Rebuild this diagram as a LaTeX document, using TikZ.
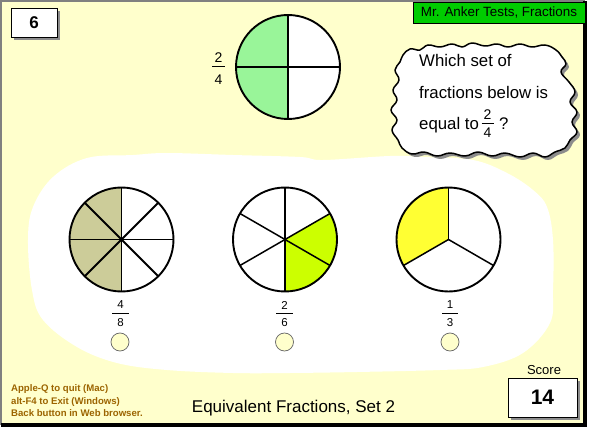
\documentclass[tikz,border=0pt]{standalone}
\usepackage{fontspec}
\setmainfont{Liberation Sans}
\usetikzlibrary{shadows}
\definecolor{paper}{HTML}{FFFFCC}
\definecolor{titlegreen}{RGB}{0,204,0}
\definecolor{halfgreen}{RGB}{153,245,153}
\definecolor{olivefill}{RGB}{204,204,153}
\definecolor{limefill}{RGB}{204,255,0}
\definecolor{yellowfill}{RGB}{255,255,51}
\definecolor{hinttext}{RGB}{156,100,0}
\begin{document}
\begin{tikzpicture}[x=1pt,y=-1pt,
  pieline/.style={line width=1.8pt, line join=round},
  pieedge/.style={line width=1.9pt},
  smallfrac/.style={font=\fontsize{11.5}{12}\selectfont, inner sep=0pt},
  bigfrac/.style={font=\fontsize{14}{15}\selectfont, inner sep=0pt},
  qtext/.style={font=\fontsize{16.8}{18}\selectfont, inner sep=0pt, anchor=base west},
  hint/.style={font=\fontsize{9.6}{10}\selectfont\bfseries, text=hinttext, inner sep=0pt, anchor=base west},
  choice/.style={circle, draw=black!60, line width=0.7pt, fill=paper, minimum size=18pt, inner sep=0pt},
  whitebox/.style={draw=black, line width=0.8pt, fill=white, inner sep=0pt,
     drop shadow={shadow xshift=3pt, shadow yshift=-3pt, fill=black!45, opacity=1}},
  fracbar/.style={line width=1pt}
]
\useasboundingbox (0,0) rectangle (590,428);
% frame
\fill[white] (0,0) rectangle (590,428);
\fill[paper] (0,0) rectangle (585,425);
\draw[gray, line width=2pt] (1,425) -- (1,1) -- (585,1);
\draw[black, line width=3.5pt] (1,425) -- (585,425) -- (585,1);

% white blob
\fill[white] plot[smooth cycle, tension=0.6] coordinates {
 (87,158) (133,155) (167,153) (233,155) (300,157) (323,160) (390,156) (423,157)
 (473,160) (507,173) (533,190) (547,207) (553,240) (553,290) (550,323) (523,353)
 (483,367) (440,370) (357,372) (290,373) (233,373) (167,370) (117,363) (77,347)
 (43,320) (32,290) (28,240) (33,207) (53,177)};

% question number box
\node[whitebox, minimum width=46pt, minimum height=29pt, font=\fontsize{17}{18}\selectfont\bfseries] (qnum) at (34,22.5) {6};

% title
\node[draw=black, line width=0.8pt, fill=titlegreen, minimum width=172pt, minimum height=21pt, inner sep=0pt,
      font=\fontsize{13.4}{14}\selectfont] (title) at (499,12.5) {Mr. Anker Tests, Fractions};

% top pie 2/4
\coordinate (toppie) at (288,67);
\begin{scope}[shift={(288,67)}, yscale=-1]
  \fill[white] (0,0) circle (52);
  \fill[halfgreen] (0,0) -- (90:52) arc (90:270:52) -- cycle;
  \draw[pieline] (90:52) -- (270:52);
  \draw[pieline] (0:52) -- (180:52);
  \draw[pieedge] (0,0) circle (52);
\end{scope}
\node[bigfrac] (topnum) at (218.5,57.5) {2};
\node[bigfrac] (topden) at (218.5,80) {4};
\draw[fracbar] (212,67) -- (225,67);

% cloud
\def\cloudpts{(403,55) (410,49) (420,50) (428,45) (440,47) (452,44) (462,47) (472,43) (485,46) (497,44) (508,47) (520,44) (532,47) (545,45) (556,50) (562,57)
 (566,64) (561,72) (569,82) (575,92) (570,102) (577,112) (572,122) (577,132) (570,140) (565,148)
 (555,152) (545,157) (533,153) (520,157) (505,153) (492,156) (478,152) (465,156) (450,153) (437,156) (424,152) (412,154) (402,148)
 (398,140) (392,130) (397,120) (391,110) (397,100) (393,90) (399,80) (395,70) (400,62)}
\fill[black!45, xshift=3pt, yshift=-3pt] plot[smooth cycle, tension=0.7] coordinates {\cloudpts};
\draw[fill=white, line width=1.5pt, line join=round] plot[smooth cycle, tension=0.7] coordinates {\cloudpts};
\node[qtext] (q1) at (419,67) {Which set of};
\node[qtext] (q2) at (419,98.5) {fractions below is};
\node[qtext] (q3) at (419,129) {equal to};
\node[bigfrac] (qnumr) at (487.5,114.5) {2};
\node[bigfrac] (qden) at (487.5,133) {4};
\draw[fracbar] (481.5,123.5) -- (493.5,123.5);
\node[qtext] (qmark) at (499,129) {?};

% pie 4/8
\coordinate (pieA) at (121.5,239.5);
\begin{scope}[shift={(121.5,239.5)}, yscale=-1]
  \fill[olivefill] (0,0) -- (90:52) arc (90:270:52) -- cycle;
  \foreach \a in {0,45,90,135} \draw[pieline] (\a:52) -- (\a+180:52);
  \draw[pieedge] (0,0) circle (52);
\end{scope}
\node[smallfrac] (anum) at (120.5,305) {4};
\node[smallfrac] (aden) at (120.5,323) {8};
\draw[fracbar] (112,313.5) -- (129,313.5);
\node[choice] (achoice) at (120,342) {};

% pie 2/6
\coordinate (pieB) at (285,239.5);
\begin{scope}[shift={(285,239.5)}, yscale=-1]
  \fill[limefill] (0,0) -- (-90:52) arc (-90:30:52) -- cycle;
  \draw[line width=1.5pt] (90:52) -- (270:52);
  \foreach \a in {30,150} \draw[line width=1.5pt] (\a:52) -- (\a+180:52);
  \draw[pieedge] (0,0) circle (52);
\end{scope}
\node[smallfrac] (bnum) at (284.5,305) {2};
\node[smallfrac] (bden) at (284.5,323) {6};
\draw[fracbar] (276,313.5) -- (293,313.5);
\node[choice] (bchoice) at (284.5,342) {};

% pie 1/3
\coordinate (pieC) at (448.5,239.5);
\begin{scope}[shift={(448.5,239.5)}, yscale=-1]
  \fill[yellowfill] (0,0) -- (90:52) arc (90:210:52) -- cycle;
  \foreach \a in {90,210,330} \draw[line width=1.5pt] (0,0) -- (\a:52);
  \draw[pieedge] (0,0) circle (52);
\end{scope}
\node[smallfrac] (cnum) at (450,305) {1};
\node[smallfrac] (cden) at (450,323) {3};
\draw[fracbar] (442,313.5) -- (458,313.5);
\node[choice] (cchoice) at (450,342) {};

% hints
\node[hint] (h1) at (11,391.5) {Apple-Q to quit (Mac)};
\node[hint] (h2) at (11,404) {alt-F4 to Exit (Windows)};
\node[hint] (h3) at (11,416.5) {Back button in Web browser.};

% set title
\node[font=\fontsize{17}{18}\selectfont, inner sep=0pt, anchor=base] (settitle) at (293.5,412) {Equivalent Fractions, Set 2};

% score
\node[font=\fontsize{13}{14}\selectfont, inner sep=0pt, anchor=base] (scorelbl) at (544,374.5) {Score};
\node[whitebox, minimum width=69pt, minimum height=39pt, font=\fontsize{21}{22}\selectfont\bfseries] (score) at (542.5,397.5) {14};
\end{tikzpicture}
\end{document}
